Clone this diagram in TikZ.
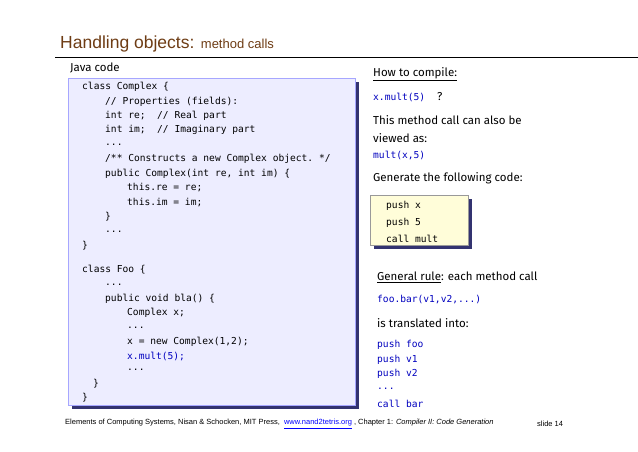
\documentclass[tikz,border=0pt]{standalone}
\usepackage{fontspec}
\setmainfont{Liberation Sans}
\setmonofont{DejaVu Sans Mono}
\newfontfamily\comic{Fira Sans}
\begin{document}
\begin{tikzpicture}[x=1pt,y=-1pt,
  code/.style={anchor=west,inner sep=0pt,font=\ttfamily\fontsize{9.6}{11}\selectfont},
  blue code/.style={code,text=blue!75!black},
  rtxt/.style={anchor=west,inner sep=0pt,font=\comic\fontsize{11.5}{13}\selectfont},
  shadowbox/.style={fill=blue!30!black!80},
]
\definecolor{titlebrown}{RGB}{110,60,20}
\useasboundingbox (0,0) rectangle (638,451);
\fill[white] (0,0) rectangle (638,451);
\node[anchor=west,inner sep=0pt,text=titlebrown] (title) at (60,44) {\fontsize{17.5}{19}\selectfont Handling objects: \fontsize{13}{14}\selectfont method calls};
\draw[line width=0.8pt] (55,57) -- (638,57);
\node[rtxt,anchor=west] (jc) at (70,68) {Java code};
% code box
\fill[shadowbox] (72,82) rectangle (359,409);
\draw[fill=blue!7,draw=blue!35] (68,78) rectangle (355,405);
\foreach \t/\y in {{class Complex \{}/87,{class Foo \{}/270,{\}}/246}{\node[code] at (82,\y) {\t};}
\foreach \t/\y in {{// Properties (fields):}/102,{int re;~~// Real part}/116,{int im;~~// Imaginary part}/130,{...}/145,{/** Constructs a new Complex object. */}/159,{public Complex(int re, int im) \{}/174,{\}}/217,{...}/232,{...}/285,{public void bla() \{}/299}{\node[code] at (105,\y) {\t};}
\foreach \t/\y in {{this.re = re;}/188,{this.im = im;}/203,{Complex x;}/313,{...}/328,{x = new Complex(1,2);}/342,{...}/370}{\node[code] at (127,\y) {\t};}
\node[blue code] (xm) at (127,356) {x.mult(5);};
\node[code] at (93,384) {\}};
\node[code] at (82,398) {\}};
% right side
\node[rtxt] (h1) at (373,74) {\underline{How to compile:}};
\node[blue code] (a) at (373,97) {x.mult(5)};
\node[rtxt] at (437,97) {?};
\node[rtxt,align=left,font=\comic\fontsize{11.5}{18}\selectfont] (b) at (373,129) {This method call can also be\\viewed as:};
\node[blue code] (c) at (373,155) {mult(x,5)};
\node[rtxt] (d) at (373,178) {Generate the following code:};
\fill[shadowbox] (374,199) rectangle (472,249);
\draw[fill=yellow!15,draw=black!40] (370,195) rectangle (468,245);
\node[code] at (386,206) {push x};
\node[code] at (386,223) {push 5};
\node[code] at (386,239) {call mult};
\node[rtxt] (gr) at (377,277) {\underline{General rule}: each method call};
\node[blue code] at (377,300) {foo.bar(v1,v2,...)};
\node[rtxt] at (377,323) {is translated into:};
\foreach \t/\y in {{push foo}/345,{push v1}/360,{push v2}/374,{...}/389,{call bar}/404}{\node[blue code] at (377,\y) {\t};}
% footer
\node[anchor=west,inner sep=0pt,font=\fontsize{7.5}{8}\selectfont] (foot) at (65,424) {Elements of Computing Systems, Nisan \& Schocken, MIT Press, \ \textcolor{blue}{\underline{www.nand2tetris.org}} , Chapter 1: \textit{Compiler II: Code Generation}};
\node[anchor=west,inner sep=0pt,font=\fontsize{7.5}{8}\selectfont] at (537,424) {slide 14};
\end{tikzpicture}
\end{document}
